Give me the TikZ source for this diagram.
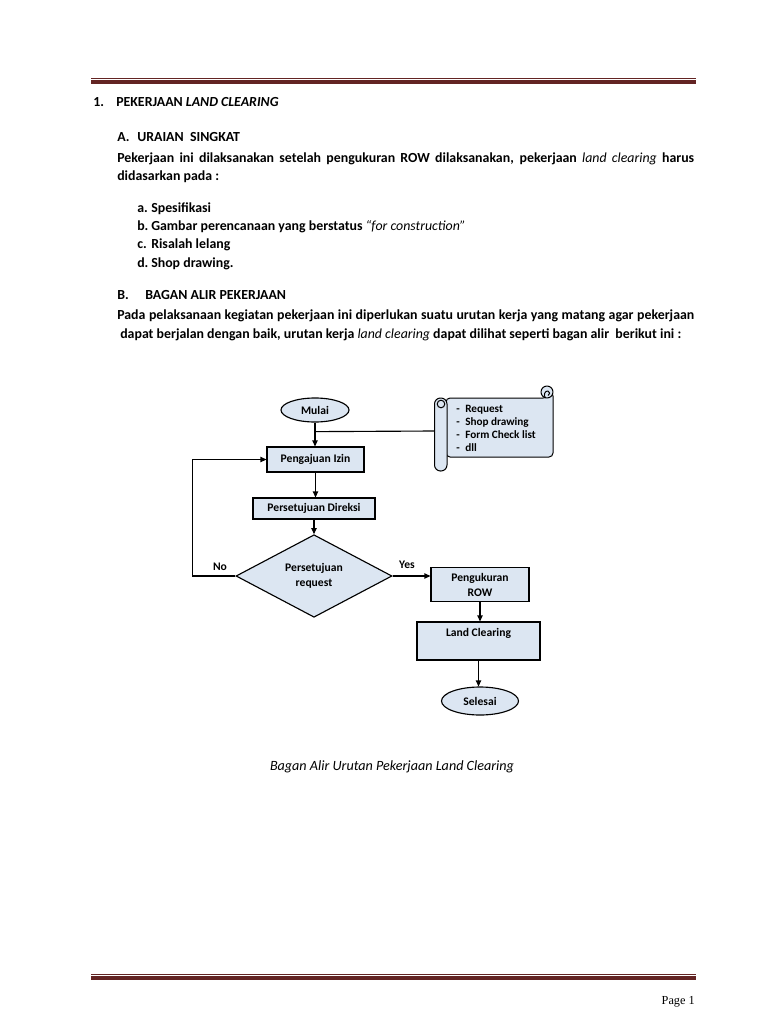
\documentclass[tikz,border=0pt]{standalone}
\usepackage{fontspec}
\setmainfont{Carlito}
\newfontfamily\pagefont{Liberation Serif}
\usetikzlibrary{shapes.geometric,arrows.meta,calc}
\definecolor{boxfill}{RGB}{220,230,242}
\definecolor{rulered}{RGB}{99,36,35}
\begin{document}
\begin{tikzpicture}[x=0.75pt,y=-0.75pt,
  txt/.style={anchor=base west,inner sep=0,font=\fontsize{10.4}{12}\selectfont\bfseries},
  fbox/.style={draw=black,line width=0.85pt,fill=boxfill,rectangle,inner sep=0,font=\fontsize{8.7}{11.25}\selectfont\bfseries,align=center},
  fell/.style={draw=black,line width=0.85pt,fill=boxfill,ellipse,inner sep=0,font=\fontsize{8.7}{10}\selectfont\bfseries},
  fdia/.style={draw=black,line width=0.85pt,fill=boxfill,diamond,inner sep=0,font=\fontsize{8.7}{11.25}\selectfont\bfseries,align=center},
  arr/.style={line width=0.85pt,-{Triangle[length=4.5pt,width=4pt]}},
  conn/.style={line width=0.85pt},
  lbl/.style={font=\fontsize{8.7}{10}\selectfont\bfseries,inner sep=0},
  stxt/.style={anchor=base west,inner sep=0,font=\fontsize{8.4}{10}\selectfont\bfseries},
  sline/.style={draw=black,line width=0.75pt,line join=round}
]
\useasboundingbox[fill=white] (0,0) rectangle (768,1024);

% header and footer rules
\draw[rulered,line width=0.6pt] (91,78.5) -- (696,78.5);
\draw[rulered,line width=3pt] (91,82) -- (696,82);
\draw[rulered,line width=0.6pt] (91,974) -- (696,974);
\draw[rulered,line width=3pt] (91,977.5) -- (696,977.5);

% text
\node[txt] (h1n) at (93,107) {1.};
\node[txt] (h1) at (116,107) {PEKERJAAN \textit{LAND CLEARING}};
\node[txt] (han) at (117,141) {A.};
\node[txt] (ha) at (137,141) {URAIAN\ \ SINGKAT};
\node[txt] (pa1) at (117,162) {\makebox[432.75pt][s]{Pekerjaan ini dilaksanakan setelah pengukuran ROW dilaksanakan, pekerjaan {\mdseries\itshape land clearing} harus}};
\node[txt] (pa2) at (117,180.5) {didasarkan pada :};
\node[txt] (la) at (137,212) {a.};
\node[txt] (lat) at (151,212) {Spesifikasi};
\node[txt] (lb) at (137,230.5) {b.};
\node[txt] (lbt) at (151,230.5) {Gambar perencanaan yang berstatus {\mdseries\itshape “for construction”}};
\node[txt] (lc0) at (137,248.5) {c.};
\node[txt] (lct0) at (151,248.5) {Risalah lelang};
\node[txt] (ld) at (137,267) {d.};
\node[txt] (ldt) at (151,267) {Shop drawing.};
\node[txt] (hbn) at (117,299) {B.};
\node[txt] (hb) at (145,299) {BAGAN ALIR PEKERJAAN};
\node[txt] (pb1) at (117,319) {\makebox[432.75pt][s]{Pada pelaksanaan kegiatan pekerjaan ini diperlukan suatu urutan kerja yang matang agar pekerjaan}};
\node[txt] (pb2) at (120,338.5) {dapat berjalan dengan baik, urutan kerja {\mdseries\itshape land clearing} dapat dilihat seperti bagan alir\ \ berikut ini :};

% scroll
\draw[sline,fill=boxfill,rounded corners=3pt] (446,398) -- (547,398) -- (553,392) -- (553,457) -- (446,457) -- cycle;
\draw[sline,fill=boxfill] (547,392) circle[radius=6];
\draw[sline] (545.5,398) .. controls (543,395) and (545,390.5) .. (548,391) .. controls (550.5,391.5) and (550,395) .. (548,395.5);
\draw[sline,fill=boxfill,rounded corners=4.5pt] (434.5,398) rectangle (447,471);
\draw[sline,fill=boxfill] (441,404) circle[radius=3.8];
\coordinate (scrollL) at (434.5,431);
\node[stxt] (s1d) at (456,412.5) {-};
\node[stxt] (s1) at (465,412.5) {Request};
\node[stxt] (s2d) at (456,425.5) {-};
\node[stxt] (s2) at (465,425.5) {Shop drawing};
\node[stxt] (s3d) at (456,438.5) {-};
\node[stxt] (s3) at (465,438.5) {Form Check list};
\node[stxt] (s4d) at (456,451.5) {-};
\node[stxt] (s4) at (465,451.5) {dll};

% flowchart
\node[fell,minimum width=51pt,minimum height=18pt] (mulai) at (315,410) {Mulai};
\node[fbox,minimum width=72.75pt,minimum height=18.75pt] (izin) at (315.5,459.5) {Pengajuan Izin};
\node[fbox,minimum width=91.5pt,minimum height=15.75pt] (dir) at (314,508.5) {Persetujuan Direksi};
\node[fdia,minimum width=117pt,minimum height=58.5pt] (dec) at (314,576) {Persetujuan\\request};
\node[fbox,minimum width=73.5pt,minimum height=25.5pt] (row) at (480,584.5) {Pengukuran\\ROW};
\node[fbox,minimum width=92.25pt,minimum height=28.5pt] (lc) at (478.5,641) {};
\node[lbl] (lct) at (478.5,633.5) {Land Clearing};
\node[fell,minimum width=57.75pt,minimum height=21pt] (sel) at (480,701) {Selesai};

\coordinate (j) at ($(mulai.south)!0.38!(mulai.south |- izin.north)$);
\draw[arr] (mulai.south) -- (mulai.south |- izin.north);
\draw[conn] (j) -- (scrollL);
\draw[arr] (izin.south) -- (izin.south |- dir.north);
\draw[arr] (dir.south) -- (dec.north);
\draw[arr] (dec.west) -- ++(-43,0) |- (izin.west);
\draw[arr] (dec.east) -- (dec.east -| row.west);
\draw[arr] (row.south) -- (row.south |- lc.north);
\draw[arr] (lc.south) -- (lc.south |- sel.north);
\node[lbl] (no) at (220,567) {No};
\node[lbl] (yes) at (407,565) {Yes};

\node[font=\fontsize{10.6}{12}\selectfont\itshape,inner sep=0] (cap) at (392,767) {Bagan Alir Urutan Pekerjaan Land Clearing};
\node[anchor=base east,inner sep=0,font=\pagefont\fontsize{9.2}{11}\selectfont] (pg) at (695,1004) {Page 1};
\end{tikzpicture}
\end{document}
